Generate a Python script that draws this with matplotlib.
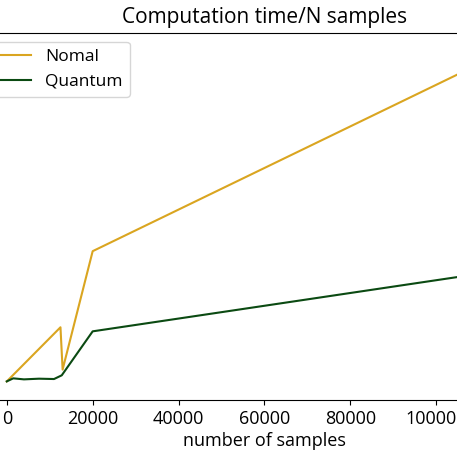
import matplotlib.pyplot as plt

# Data (y scale unknown, left axis is cropped away).
nomalSamples = [0, 12500, 13000, 20000, 120000]
nomalTime = [0.0, 16.0, 3.5, 38.5, 100.0]

quantumSamples = [0, 1500, 4000, 7500, 11000, 12800, 20000, 120000]
quantumTime = [0.0, 0.9, 0.6, 0.8, 0.7, 1.8, 14.8, 33.7]

plt.rcParams['font.family'] = ['Open Sans', 'DejaVu Sans']

fig = plt.figure(figsize=(4.57, 4.57), dpi=100)
# The original figure is wider; the visible crop cuts the axes on both sides.
ax = fig.add_axes([-19 / 457, 57 / 457, 567 / 457, 367 / 457])

ax.plot(nomalSamples, nomalTime, color="#DAA520", linewidth=1.5, label="Nomal")
ax.plot(quantumSamples, quantumTime, color="#0B4A12", linewidth=1.5, label="Quantum")

ax.set_xlim(-6000, 126000)
ax.set_ylim(-5.5, 103)
ax.set_xticks([0, 20000, 40000, 60000, 80000, 100000])
ax.tick_params(axis="x", labelsize=13)
ax.tick_params(axis="y", labelleft=False)  # y labels lie outside the crop
ax.set_xlabel("number of samples", fontsize=13, labelpad=3)
ax.set_title("Computation time/N samples", fontsize=15, pad=7)
ax.legend(loc="upper left", fontsize=12.5)

plt.savefig("out.png", dpi=100)
